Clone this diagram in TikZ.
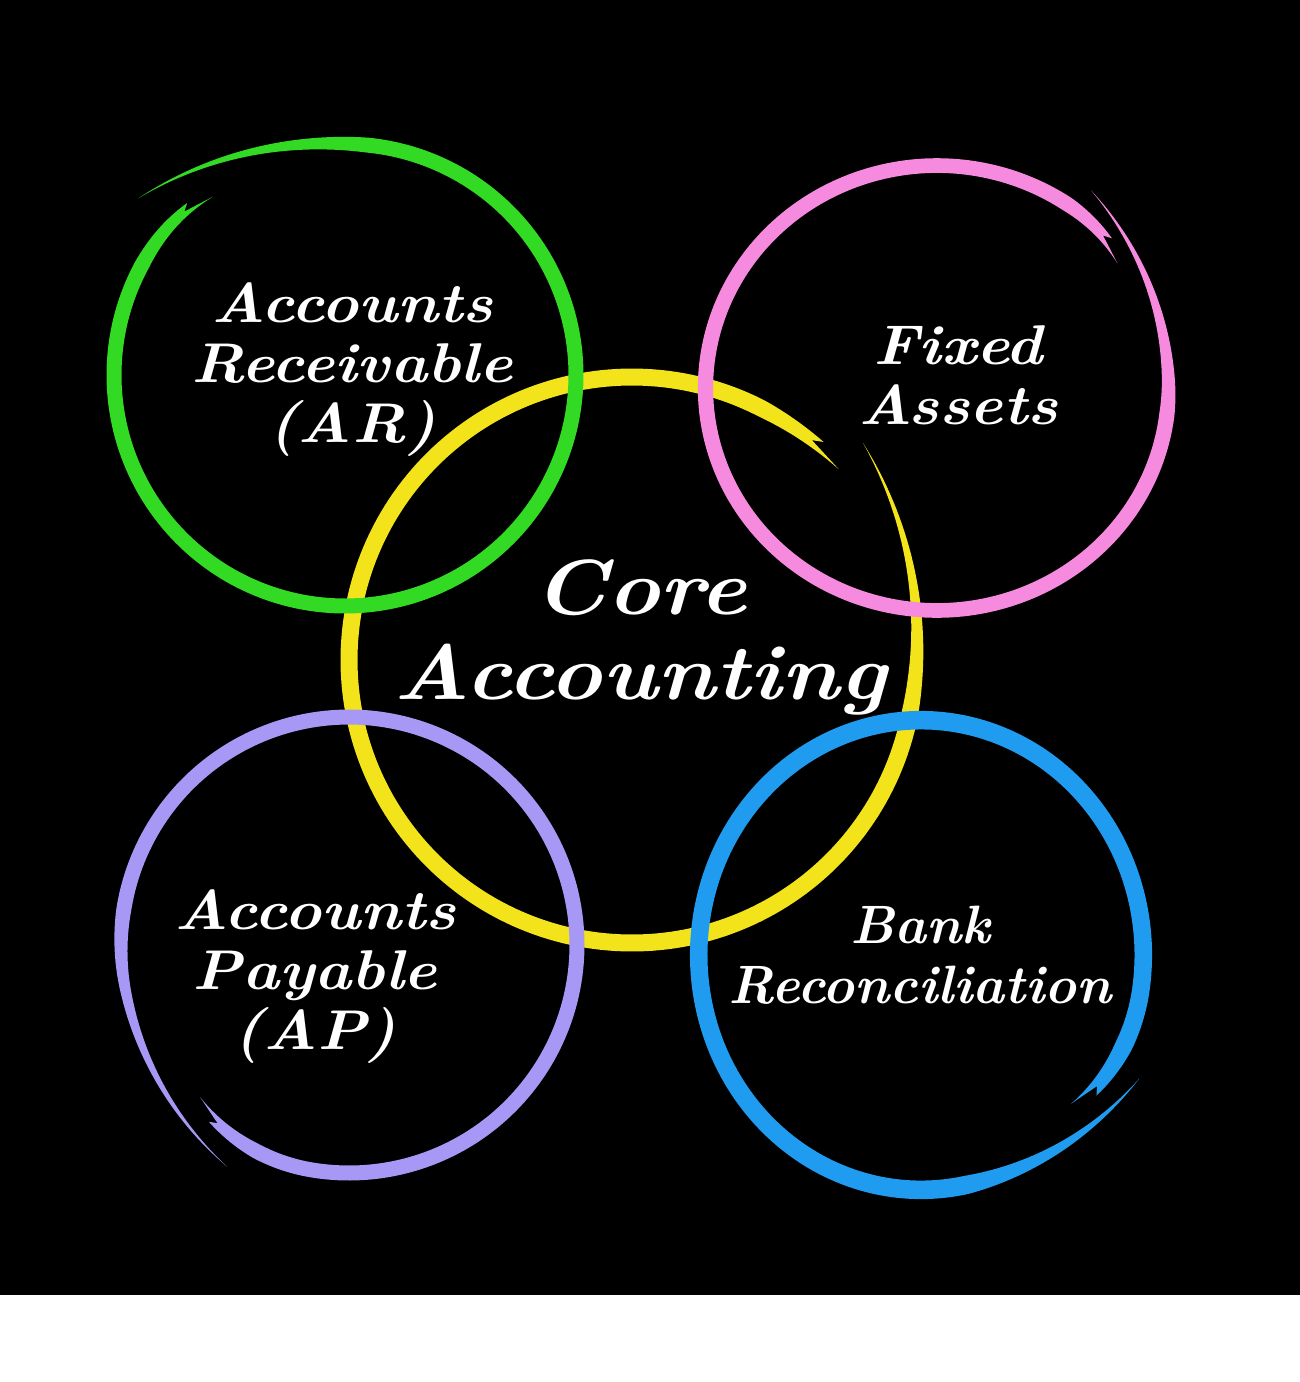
\documentclass[tikz,border=0pt]{standalone}
\usepackage{fontspec}
\definecolor{cgreen}{HTML}{33DA24}
\definecolor{cpink}{HTML}{F58ADF}
\definecolor{cyellow}{HTML}{F2E31B}
\definecolor{cpurple}{HTML}{A898F6}
\definecolor{cblue}{HTML}{1F9BEF}
\pgfkeys{/brush/.is family,/brush,
  cx/.store in=\BRcx, cy/.store in=\BRcy, rm/.store in=\BRrm,
  ra/.store in=\BRra, rb/.store in=\BRrb, fa/.store in=\BRfa, fb/.store in=\BRfb,
  start/.store in=\BRst, span/.store in=\BRspan, w/.store in=\BRw,
  ta/.store in=\BRta, tb/.store in=\BRtb, we/.store in=\BRwe,
  sx/.store in=\BRsx, sy/.store in=\BRsy, col/.store in=\BRcol,
  d1/.store in=\BRdone, dv/.store in=\BRdv}
\tikzset{
  declare function={
    brr(\s)=\BRrm+(\BRra-\BRrm)*(max(0,1-\s/\BRfa))^2+(\BRrb-\BRrm)*(max(0,1-(\BRspan-\s)/\BRfb))^2;
    bww(\s)=\BRw*min(1,\s/\BRta,\BRwe+(1-\BRwe)*(\BRspan-\s)/\BRtb);
    bang(\s)=\BRst+\s;
    bxo(\s)=\BRcx+\BRsx*(brr(\s)+bww(\s)/2)*cos(bang(\s));
    byo(\s)=\BRcy+\BRsy*(brr(\s)+bww(\s)/2)*sin(bang(\s));
    bxi(\s)=\BRcx+\BRsx*(brr(\s)-bww(\s)/2)*cos(bang(\s));
    byi(\s)=\BRcy+\BRsy*(brr(\s)-bww(\s)/2)*sin(bang(\s));
    bxc(\s)=\BRcx+\BRsx*brr(\s)*cos(bang(\s));
    byc(\s)=\BRcy+\BRsy*brr(\s)*sin(bang(\s));
  },
  lbl/.style={text=white, align=center, inner sep=0pt},
  lblsmall/.style={lbl, xscale=1.12, font=\fontsize{56}{60}\selectfont\bfseries\itshape},
  lblbank/.style={lbl, xscale=1.0, font=\fontsize{54}{60}\selectfont\bfseries\itshape},
  lblbig/.style={lbl, xscale=1.14, font=\fontsize{78}{85}\selectfont\bfseries\itshape},
}
\newcommand\brushstroke[1]{%
  \pgfkeys{/brush,sx=1,sy=1,we=0.55,d1=6,dv=8,#1}%
  \pgfmathsetmacro\BRendo{\BRspan-\BRdone}%
  \pgfmathsetmacro\BRvs{\BRspan-\BRdv}%
  \fill[\BRcol] plot[domain=0:\BRendo,samples=240,variable=\s] ({bxo(\s)},{byo(\s)})
    -- ({bxc(\BRvs)},{byc(\BRvs)})
    -- plot[domain=\BRspan:0,samples=240,variable=\s] ({bxi(\s)},{byi(\s)}) -- cycle;}
\begin{document}
\begin{tikzpicture}[x=1pt,y=-1pt]
\useasboundingbox (0,0) rectangle (1300,1382);
\fill[black] (0,0) rectangle (1300,1295);
\fill[white] (0,1295) rectangle (1300,1382);
% yellow (drawn first, under the others)
\brushstroke{cx=632,cy=660,rm=283,ra=317,fa=55,rb=286,fb=20,start=-43.2,span=360.5,w=17,ta=55,tb=20,col=cyellow}
% green
\brushstroke{cx=345,cy=375,rm=231,ra=272,fa=55,rb=226,fb=20,start=-139.5,span=373,w=15,ta=55,tb=25,col=cgreen}
% pink
\brushstroke{cx=937,cy=388,rm=227,sx=1.02,sy=0.98,ra=252,fa=50,rb=222,fb=20,start=-53.2,span=377.5,w=15,ta=60,tb=20,col=cpink}
% purple
\brushstroke{cx=349,cy=945,rm=228,ra=253,fa=50,rb=217,fb=35,start=-241.2,span=375.6,w=15,ta=70,tb=20,col=cpurple}
% blue
\brushstroke{cx=921,cy=955,rm=228,sx=0.975,sy=1.03,ra=254,fa=50,rb=216,fb=35,start=28.2,span=375,w=18,ta=50,tb=20,col=cblue}
% labels
\node[lblsmall] (ar) at (352,370) {Accounts\\Receivable\\(AR)};
\node[lblsmall] (fa) at (958,375) {Fixed\\Assets};
\node[lblbig] (core) at (640,637) {Core\\Accounting};
\node[lblsmall] (ap) at (315,977) {Accounts\\Payable\\(AP)};
\node[lblbank] (br) at (920,955) {Bank\\Reconciliation};
\end{tikzpicture}
\end{document}
